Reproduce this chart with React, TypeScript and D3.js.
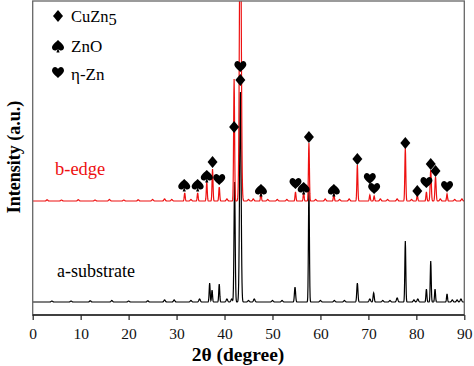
import React, { useEffect, useRef } from 'react';
import * as d3 from 'd3';

// peak list for each trace: 2theta (deg), height above baseline, width (sigma, deg)
const redPeakPos = [31.7, 34.4, 36.3, 37.5, 38.9, 42.0, 43.3, 47.6, 54.8, 56.5, 57.6, 62.8, 67.7, 70.3, 71.2, 77.7, 80.2, 82.1, 83.0, 84.0, 86.4];
const redPeakHeight = [8, 8, 19, 32, 14, 122, 330, 8, 9, 8, 58, 7, 36, 6, 5, 53, 6, 9, 31, 24, 7];
const redPeakWidth = [0.1, 0.1, 0.1, 0.1, 0.1, 0.1, 0.18, 0.1, 0.1, 0.1, 0.1, 0.1, 0.1, 0.1, 0.1, 0.1, 0.1, 0.1, 0.12, 0.12, 0.1];

const blackPeakPos = [36.9, 37.4, 38.9, 42.1, 43.3, 54.7, 57.6, 67.7, 71.1, 77.7, 82.1, 83.0, 83.9, 86.4];
const blackPeakHeight = [19, 12, 18, 120, 210, 15, 115, 19, 9, 61, 13, 41, 13, 8];
const blackPeakWidth = [0.1, 0.1, 0.1, 0.12, 0.16, 0.12, 0.1, 0.12, 0.12, 0.1, 0.1, 0.1, 0.1, 0.1];

// small baseline wiggles: [2theta, height]
const redNoise = [[3, 1.2], [6, 1], [9.5, 1.3], [13, 1], [16, 1.5], [19, 1], [22, 1.2], [25, 1.5], [27.5, 2], [29, 1.5], [33, 1.5], [40.5, 2], [45, 1.5], [46, 2], [49, 1.5], [51, 1.5], [53, 1.5], [59, 1.5], [61, 2], [64, 1.5], [66, 2], [72.5, 2], [74, 1.5], [76, 2], [79, 1.5], [85, 2], [88, 1.5], [89.5, 2]];
const blackNoise = [[4, 1], [8, 1], [12, 1.2], [16.5, 1.5], [20, 1], [24, 1.2], [27.5, 2], [29.5, 2], [33, 1.5], [34.8, 3], [40.5, 3], [41.5, 3], [45, 1.5], [46.2, 3], [50, 1.5], [52, 1.5], [60, 1.5], [62.9, 1.5], [65, 1.5], [70.3, 3], [73, 1.5], [74.5, 1.5], [76, 4], [79.5, 2], [80.3, 3], [87.5, 2], [88.5, 2], [89.3, 3]];

const redOffset = 114;
const blackOffset = 13;

// phase markers: [2theta, level]
const cuzn5Marks = [[37.5, 153], [42.0, 188], [43.3, 235], [57.6, 178], [67.7, 156], [77.7, 172], [80.2, 124], [83.0, 151], [84.0, 144]];
const znoMarks = [[31.6, 130], [34.4, 130], [36.3, 139], [47.6, 125], [56.5, 127], [62.8, 125]];
const znMarks = [[38.9, 135], [43.3, 248], [54.8, 131], [70.3, 136], [71.2, 126], [82.1, 132], [86.4, 128]];

const xTicks = [0, 10, 20, 30, 40, 50, 60, 70, 80, 90];

const W = 474;
const H = 366;
const left = 32.7;
const right = 464.3;
const top = 1;
const bottom = 315;

const FONT = 'Liberation Serif';
const RED = '#ee1111';

const DIAMOND = 'M0,-6L5,0L0,6L-5,0Z';
const HEART = 'M0,5C-2,3 -6,0 -6,-2.5C-6,-5 -4,-6 -3,-6C-1.5,-6 -0.5,-5 0,-4C0.5,-5 1.5,-6 3,-6C4,-6 6,-5 6,-2.5C6,0 2,3 0,5Z';
const SPADE = 'M0,-6C-2,-4 -6,-1 -6,1.5C-6,3.5 -4.5,4.5 -3,4.5C-1.8,4.5 -0.8,3.8 -0.4,3L-1.6,6.5L1.6,6.5L0.4,3C0.8,3.8 1.8,4.5 3,4.5C4.5,4.5 6,3.5 6,1.5C6,-1 2,-4 0,-6Z';

function buildTrace(pos: number[], hgt: number[], wid: number[], noise: number[][], offset: number) {
  const pts: [number, number][] = [];
  for (let i = 0; i <= 1800; i++) {
    const t = i * 0.05;
    let v = offset;
    pos.forEach((p, k) => {
      const d = (t - p) / wid[k];
      v += hgt[k] * Math.exp(-0.5 * d * d);
    });
    noise.forEach(([p, h]) => {
      const d = (t - p) / 0.15;
      v += h * Math.exp(-0.5 * d * d);
    });
    pts.push([t, v]);
  }
  return pts;
}

const App = () => {
  const axisRef = useRef<SVGGElement>(null);

  const x = d3.scaleLinear().domain([0, 90]).range([left, right]);
  const y = d3.scaleLinear().domain([0, bottom - top]).range([bottom, top]);

  const line = d3
    .line<[number, number]>()
    .x((d) => x(d[0]))
    .y((d) => y(d[1]));

  const redData = buildTrace(redPeakPos, redPeakHeight, redPeakWidth, redNoise, redOffset);
  const blackData = buildTrace(blackPeakPos, blackPeakHeight, blackPeakWidth, blackNoise, blackOffset);

  useEffect(() => {
    const g = d3.select(axisRef.current);
    g.selectAll('*').remove();
    g.call(d3.axisBottom(x).tickValues(xTicks).tickSize(5).tickSizeOuter(0).tickPadding(8));
    g.attr('font-family', FONT).attr('font-size', 15.5);
    g.select('.domain').remove();
    g.selectAll('line').attr('stroke', '#222').attr('stroke-width', 1.2);
    g.selectAll('text').attr('fill', '#111');
  }, []);

  const marks = (list: number[][], path: string, key: string) =>
    list.map((m, i) => (
      <path key={key + i} d={path} transform={`translate(${x(m[0])},${y(m[1])})`} fill="#000" />
    ));

  return (
    <svg
      width={W}
      height={H}
      style={{ position: 'absolute', left: 0, top: 0, background: '#fff', fontFamily: FONT }}
    >
      <defs>
        <clipPath id="plot">
          <rect x={left} y={top} width={right - left} height={bottom - top} />
        </clipPath>
      </defs>
      <g clipPath="url(#plot)">
        <path d={line(blackData) || ''} fill="none" stroke="#000" strokeWidth={1.2} />
        <path d={line(redData) || ''} fill="none" stroke={RED} strokeWidth={1.2} />
      </g>
      {marks(cuzn5Marks, DIAMOND, 'd')}
      {marks(znoMarks, SPADE, 's')}
      {marks(znMarks, HEART, 'h')}

      {/* frame */}
      <rect x={left} y={top} width={right - left} height={bottom - top} fill="none" stroke="#666" strokeWidth={1.3} />
      <line x1={left} x2={right} y1={bottom} y2={bottom} stroke="#222" strokeWidth={1.3} />
      <g ref={axisRef} transform={`translate(0,${bottom})`} />

      {/* legend */}
      <path d={DIAMOND} transform="translate(58,16)" fill="#000" />
      <text x={71} y={22} fontSize={16.5}>
        CuZn<tspan dy={3}>5</tspan>
      </text>
      <path d={SPADE} transform="translate(58,46)" fill="#000" />
      <text x={71} y={52} fontSize={17}>ZnO</text>
      <path d={HEART} transform="translate(58,73)" fill="#000" />
      <text x={71} y={80} fontSize={17}>η-Zn</text>

      <text x={55} y={175} fontSize={18.5} fill={RED}>b-edge</text>
      <text x={57} y={277} fontSize={18} fill="#000">a-substrate</text>

      <text x={238} y={361} textAnchor="middle" fontSize={19.5} fontWeight="bold">
        2θ (degree)
      </text>
      <text transform="translate(20,157) rotate(-90)" textAnchor="middle" fontSize={18} fontWeight="bold">
        Intensity (a.u.)
      </text>
    </svg>
  );
};

export default App;
